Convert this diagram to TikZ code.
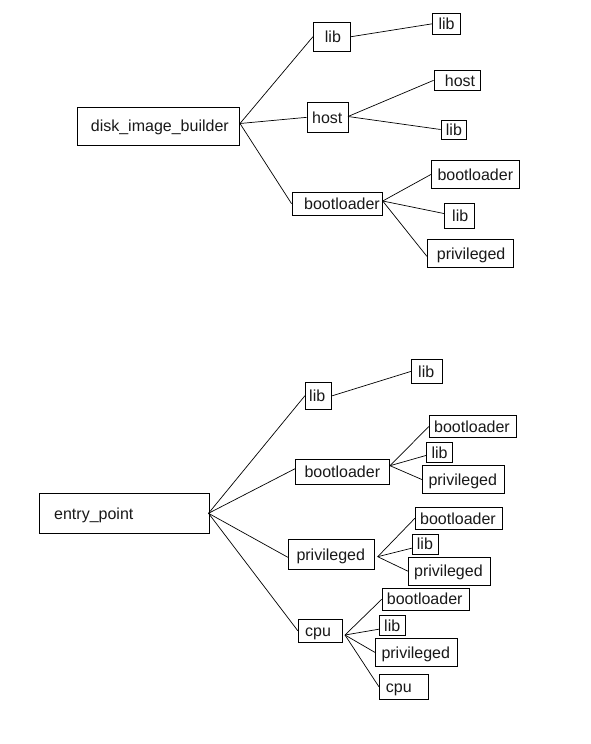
\documentclass[tikz,border=0pt]{standalone}
\usepackage{fontspec}
\setmainfont{Liberation Sans}
\usetikzlibrary{fit}
\tikzset{
  box/.style={draw=black, line width=0.9pt, inner sep=0pt, rectangle},
  lbl/.style={inner sep=0pt, font=\fontsize{16}{19}\selectfont, text=black!90},
  conn/.style={draw=black, line width=0.7pt}
}
\newcommand\bx[7]{%
  \node[box, fit={(#2,#3) (#4,#5)}] (#1) {};
  \node[lbl, anchor=base west] (#1-t) at ({#6-1},{(#3+#5)/2+5.8}) {#7};
}
\begin{document}
\begin{tikzpicture}[x=1pt,y=-1pt]
\fill[white] (0,0) rectangle (591,744);
\useasboundingbox (0,0) rectangle (591,744);
% ---------- top tree ----------
\bx{root}{77.3}{107.3}{239.3}{145}{91.7}{disk\_image\_builder}
\bx{lib1}{313.3}{22.3}{350}{51.3}{325.7}{lib}
\bx{lib11}{432.7}{13.3}{460}{34.3}{439.3}{lib}
\bx{host}{307}{102.7}{348}{132}{313}{host}
\bx{host2}{434}{70.7}{480.7}{90}{445.7}{host}
\bx{lib2}{441}{120}{466.7}{139}{446.7}{lib}
\bx{boot}{292}{192.3}{382.7}{215}{305}{bootloader}
\bx{boot2}{431.3}{160.7}{519.3}{188.3}{438.3}{bootloader}
\bx{lib3}{444.3}{203.3}{474.3}{228.7}{453}{lib}
\bx{priv}{427.3}{239.3}{513.3}{267.3}{437.7}{privileged}
\coordinate (rf) at (240,123.5);
\coordinate (hf) at (348,116.5);
\coordinate (bf) at (382.7,201);
\draw[conn] (rf) -- (lib1.west);
\draw[conn] (rf) -- (host.west);
\draw[conn] (rf) -- (boot.west);
\draw[conn] (lib1.east) -- (lib11.west);
\draw[conn] (hf) -- (host2.west);
\draw[conn] (hf) -- (lib2.west);
\draw[conn] (bf) -- (boot2.west);
\draw[conn] (bf) -- ([yshift=2.5pt]lib3.west);
\draw[conn] (bf) -- ([yshift=-3pt]priv.west);
% ---------- bottom tree ----------
\bx{entry}{39.3}{493.3}{209.3}{533.3}{55}{entry\_point}
\bx{blib}{305.3}{382.3}{331.7}{409.3}{310}{lib}
\bx{blib2}{411.7}{359.3}{442.3}{383.3}{419}{lib}
\bx{bboot}{295.3}{459.3}{389.3}{484.3}{305.3}{bootloader}
\bx{bbb}{429.3}{415.7}{516.3}{437.3}{435}{bootloader}
\bx{bbl}{426.3}{442.7}{452.3}{462.3}{432.3}{lib}
\bx{bbp}{422.3}{465.7}{504.3}{493.3}{429.3}{privileged}
\bx{bpriv}{288.3}{539.3}{374.3}{569.3}{297.3}{privileged}
\bx{bpb}{415.3}{507.3}{502.3}{529.3}{421}{bootloader}
\bx{bpl}{412.3}{534.3}{438.3}{554}{417.7}{lib}
\bx{bpp}{408.3}{557.3}{490.3}{585}{415}{privileged}
\bx{bcpu}{298.3}{619.3}{342.7}{642.3}{306}{cpu}
\bx{bcb}{382.3}{588.3}{469.3}{610}{387.7}{bootloader}
\bx{bcl}{379.3}{615.7}{405.3}{635.7}{385}{lib}
\bx{bcp}{375.3}{638.7}{457.3}{666}{382.3}{privileged}
\bx{bcc}{379.3}{674}{428.3}{699.3}{386.7}{cpu}
\coordinate (ef) at (208.5,513.3);
\coordinate (bbf) at (390,465.7);
\coordinate (bpf) at (377.7,556.7);
\coordinate (bcf) at (345,635);
\draw[conn] (ef) -- (blib.west);
\draw[conn] (ef) -- ([yshift=3pt]bboot.west);
\draw[conn] (ef) -- ([yshift=-3pt]bpriv.west);
\draw[conn] (ef) -- (bcpu.west);
\draw[conn] (blib.east) -- (blib2.west);
\draw[conn] (bbf) -- (bbb.west);
\draw[conn] (bbf) -- ([yshift=-3pt]bbl.west);
\draw[conn] (bbf) -- (bbp.west);
\draw[conn] (bpf) -- (bpb.west);
\draw[conn] (bpf) -- ([yshift=-4pt]bpl.west);
\draw[conn] (bpf) -- (bpp.west);
\draw[conn] (bcf) -- (bcb.west);
\draw[conn] (bcf) -- ([yshift=-3.5pt]bcl.west);
\draw[conn] (bcf) -- (bcp.west);
\draw[conn] (bcf) -- (bcc.west);
\end{tikzpicture}
\end{document}
